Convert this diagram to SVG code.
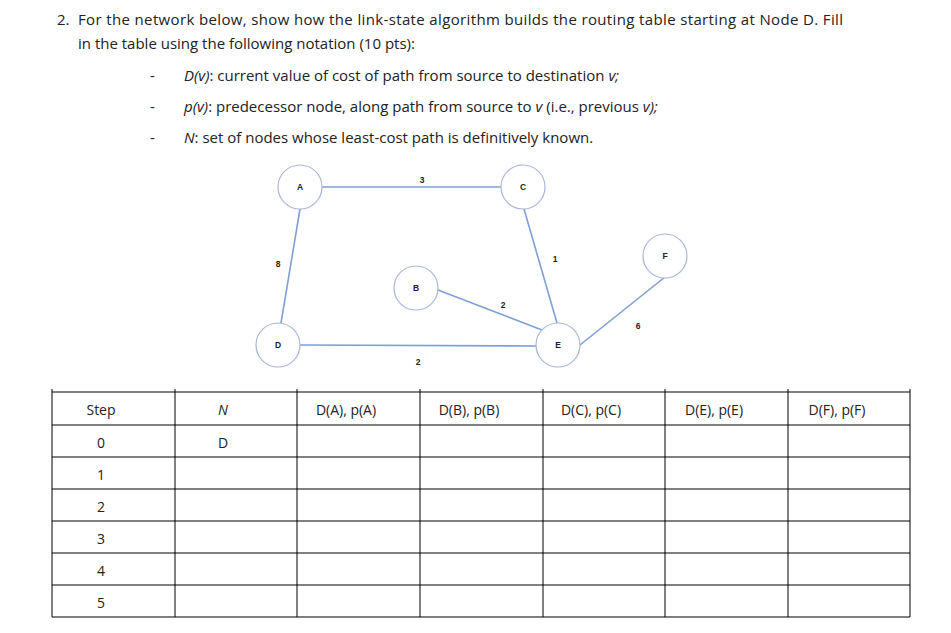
<svg xmlns="http://www.w3.org/2000/svg" width="951" height="633" viewBox="0 0 951 633">
<style>
.t{font-family:"Open Sans","Liberation Sans",sans-serif;font-size:15px;fill:#222}
.i{font-style:italic}
.n{fill:#fff;stroke:#a9b6d6;stroke-width:1.2}
.nl{font-family:"Liberation Sans",sans-serif;font-size:8.5px;font-weight:bold;fill:#222;text-anchor:middle}
.e{stroke:#7f9fd6;stroke-width:1.6}
.g{stroke:#000;stroke-width:1}
.c{font-family:"Open Sans","Liberation Sans",sans-serif;font-size:14px;fill:#222;text-anchor:middle}
</style>
<rect width="951" height="633" fill="#fff"/>
<g id="text">
<text class="t" x="57" y="25">2.</text>
<text class="t" x="78" y="25" textLength="765">For the network below, show how the link-state algorithm builds the routing table starting at Node D. Fill</text>
<text class="t" x="78" y="49">in the table using the following notation (10 pts):</text>
<text class="t" x="150" y="81">-</text><text class="t" x="184" y="81"><tspan class="i">D(v)</tspan>: current value of cost of path from source to destination <tspan class="i">v;</tspan></text>
<text class="t" x="150" y="112">-</text><text class="t" x="184" y="112"><tspan class="i">p(v)</tspan>: predecessor node, along path from source to <tspan class="i">v</tspan> (i.e., previous <tspan class="i">v);</tspan></text>
<text class="t" x="150" y="143">-</text><text class="t" x="184" y="143"><tspan class="i">N</tspan>: set of nodes whose least-cost path is definitively known.</text>
</g>
<g id="edges">
<line class="e" x1="322" y1="187" x2="501" y2="187"/>
<line class="e" x1="300" y1="209" x2="281" y2="323"/>
<line class="e" x1="300" y1="345" x2="536" y2="346"/>
<line class="e" x1="438" y1="290" x2="542" y2="330"/>
<line class="e" x1="524" y1="209" x2="557" y2="323"/>
<line class="e" x1="580" y1="345" x2="665" y2="277"/>
<g font-family="Liberation Sans,sans-serif" font-size="8.5" font-weight="bold" fill="#222" text-anchor="middle">
<text x="422" y="183">3</text><text x="278" y="267">8</text><text x="555" y="262">1</text><text x="503" y="308">2</text><text x="638" y="329">6</text><text x="418" y="365">2</text>
</g>
</g>
<g id="A"><circle class="n" cx="300" cy="187" r="22"/><text class="nl" x="300" y="190">A</text></g>
<g id="C"><circle class="n" cx="523" cy="187" r="22"/><text class="nl" x="523" y="190">C</text></g>
<g id="B"><circle class="n" cx="416" cy="288" r="22"/><text class="nl" x="416" y="291">B</text></g>
<g id="F"><circle class="n" cx="665" cy="256" r="22"/><text class="nl" x="665" y="259">F</text></g>
<g id="D"><circle class="n" cx="278" cy="345" r="22"/><text class="nl" x="278" y="348">D</text></g>
<g id="E"><circle class="n" cx="558" cy="345" r="22"/><text class="nl" x="558" y="348">E</text></g>
<g id="table">
<line class="g" x1="52" y1="392" x2="910" y2="392"/>
<line class="g" x1="52" y1="425" x2="910" y2="425"/>
<line class="g" x1="52" y1="457" x2="910" y2="457"/>
<line class="g" x1="52" y1="489" x2="910" y2="489"/>
<line class="g" x1="52" y1="521" x2="910" y2="521"/>
<line class="g" x1="52" y1="553" x2="910" y2="553"/>
<line class="g" x1="52" y1="585" x2="910" y2="585"/>
<line class="g" x1="52" y1="617" x2="910" y2="617"/>
<line class="g" x1="52" y1="389" x2="52" y2="617"/>
<line class="g" x1="175" y1="389" x2="175" y2="617"/>
<line class="g" x1="297" y1="389" x2="297" y2="617"/>
<line class="g" x1="420" y1="389" x2="420" y2="617"/>
<line class="g" x1="543" y1="389" x2="543" y2="617"/>
<line class="g" x1="665" y1="389" x2="665" y2="617"/>
<line class="g" x1="788" y1="389" x2="788" y2="617"/>
<line class="g" x1="910" y1="389" x2="910" y2="617"/>
<text class="c" x="101" y="415">Step</text>
<text class="c i" x="223" y="415">N</text>
<text class="c" x="346" y="415">D(A), p(A)</text>
<text class="c" x="469" y="415">D(B), p(B)</text>
<text class="c" x="591" y="415">D(C), p(C)</text>
<text class="c" x="714" y="415">D(E), p(E)</text>
<text class="c" x="837" y="415">D(F), p(F)</text>
<text class="c" x="101" y="448">0</text><text class="c" x="223" y="448">D</text>
<text class="c" x="101" y="480">1</text>
<text class="c" x="101" y="512">2</text>
<text class="c" x="101" y="544">3</text>
<text class="c" x="101" y="576">4</text>
<text class="c" x="101" y="608">5</text>
</g>
</svg>
